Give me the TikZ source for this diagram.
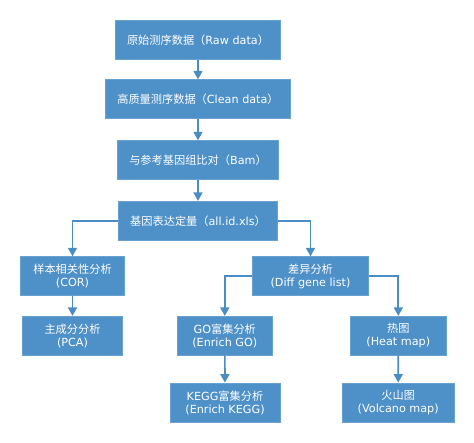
\documentclass[tikz,border=0pt]{standalone}
\usepackage{fontspec}
\setmainfont{DejaVu Sans}
\newfontfamily\cjk{Noto Sans CJK SC}
\usetikzlibrary{arrows.meta}
\definecolor{boxblue}{RGB}{78,144,200}
\definecolor{lineblue}{RGB}{74,140,196}
\tikzset{
  flowbox/.style={fill=boxblue, draw=boxblue!85!white, line width=0.8pt, text=white,
    minimum height=39pt, inner sep=0pt, align=center,
    font=\fontsize{11.2}{13}\selectfont},
  link/.style={draw=lineblue, line width=1.7pt, -{Triangle[length=8.5pt,width=9pt]}}
}
\begin{document}
\begin{tikzpicture}[x=1pt,y=1pt]
\useasboundingbox (0,0) rectangle (474,-443);
\node[flowbox, minimum width=164.6pt] (raw) at (198,-40.2) {{\cjk 原始测序数据（}Raw data{\cjk ）}};
\node[flowbox, minimum width=185.4pt] (clean) at (198,-99.2) {{\cjk 高质量测序数据（}Clean data{\cjk ）}};
\node[flowbox, minimum width=161.4pt] (bam) at (198,-160.2) {{\cjk 与参考基因组比对（}Bam{\cjk ）}};
\node[flowbox, minimum width=158.6pt] (expr) at (198,-220.8) {{\cjk 基因表达定量（}all.id.xls{\cjk ）}};
\node[flowbox, minimum width=103.6pt, minimum height=38.6pt] (cor) at (72.5,-276) {{\cjk 样本相关性分析}\\(COR)};
\node[flowbox, minimum width=99.6pt] (pca) at (72.5,-335.8) {{\cjk 主成分分析}\\(PCA)};
\node[flowbox, minimum width=115.6pt, minimum height=38.6pt] (diff) at (310.5,-276) {{\cjk 差异分析}\\(Diff gene list)};
\node[flowbox, minimum width=95.7pt] (go) at (224.8,-335.8) {GO{\cjk 富集分析}\\(Enrich GO)};
\node[flowbox, minimum width=96pt] (heat) at (398.3,-335.8) {{\cjk 热图}\\(Heat map)};
\node[flowbox, minimum width=110pt] (kegg) at (225,-402.5) {KEGG{\cjk 富集分析}\\(Enrich KEGG)};
\node[flowbox, minimum width=111.7pt] (volc) at (398.2,-402.5) {{\cjk 火山图}\\(Volcano map)};
\draw[link] (raw) -- (clean);
\draw[link] (clean) -- (bam);
\draw[link] (bam) -- (expr);
\draw[link] (expr.west) -| (cor.north);
\draw[link] (expr.east) -| (diff.north);
\draw[link] (cor) -- (pca);
\draw[link] (diff.west) -| (go.north);
\draw[link] (diff.east) -| (heat.north);
\draw[link] (go) -- (kegg);
\draw[link] (heat) -- (volc);
\end{tikzpicture}
\end{document}
